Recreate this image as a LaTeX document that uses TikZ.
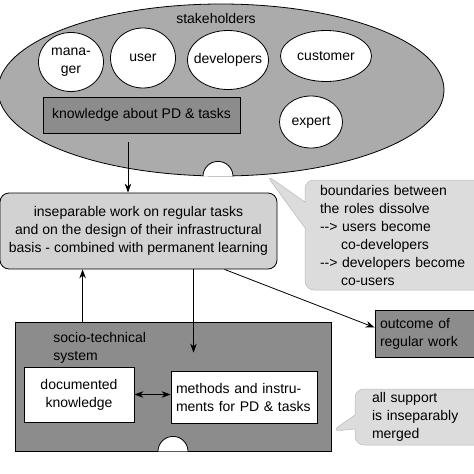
\documentclass[tikz,border=0pt]{standalone}
\usepackage{fontspec}
\setmainfont{Liberation Sans}
\usetikzlibrary{shapes.geometric,shapes.callouts,arrows.meta}
\definecolor{stakegray}{HTML}{ABABAB}
\definecolor{workgray}{HTML}{D2D2D2}
\definecolor{boxgray}{HTML}{8C8C8C}
\definecolor{notegray}{HTML}{DCDCDC}
\begin{document}
\begin{tikzpicture}[x=1pt,y=-1pt,line width=0.8pt,>={Stealth[length=9pt,width=6.5pt]},
  every node/.style={font=\fontsize{14}{18}\selectfont},
  role/.style={draw,ellipse,fill=white,inner sep=0pt,align=center},
  box/.style={draw,rectangle,inner sep=0pt},
  note/.style={rectangle callout,rounded corners=9pt,draw=gray!55,line width=0.5pt,fill=notegray,align=left,inner sep=0pt}]
\useasboundingbox (0,0) rectangle (474,474);
\node[ellipse,draw,fill=stakegray,minimum width=446pt,minimum height=172pt] (stake) at (221,90) {};
\node (stakelabel) at (216,18) {stakeholders};
\node[role,minimum width=65pt,minimum height=59pt] (manager) at (71,62) {mana-\\ger};
\node[role,minimum width=65pt,minimum height=60pt] (user) at (143,58) {user};
\node[role,inner xsep=-9pt,minimum width=81pt,minimum height=59pt] (dev) at (228,60) {developers};
\node[role,minimum width=91pt,minimum height=51pt] (customer) at (326,56) {customer};
\node[role,minimum width=63pt,minimum height=52pt] (expert) at (311,122) {expert};
\node[box,fill=boxgray,minimum width=197pt,minimum height=36pt] (know) at (141.5,115) {knowledge about PD \& tasks};
\draw[fill=white] ([xshift=-18pt]stake.south) arc[start angle=180,end angle=0,radius=15pt];
%
\node[draw,rounded corners=9pt,fill=workgray,minimum width=277pt,minimum height=76pt,align=center,inner sep=0pt] (work) at (138.5,231) {inseparable work on regular tasks\\and on the design of their infrastructural\\basis - combined with permanent learning};
\node[note,callout absolute pointer={(stake.-62)},callout pointer width=26pt,minimum width=180pt,minimum height=110pt,text width=150pt] (roles) at (395,235) {boundaries between\\the roles dissolve\\-{}-> users become\\\hspace*{21pt}co-developers\\-{}-> developers become\\\hspace*{21pt}co-users};
\node[box,fill=boxgray,minimum width=106pt,minimum height=47pt,text width=96pt,align=left] (outcome) at (428,333.5) {outcome of\\regular work};
%
\node[box,fill=boxgray,minimum width=316pt,minimum height=129pt] (socio) at (173,386.5) {};
\node[align=left,anchor=west,inner sep=0pt] (sociolabel) at (53,347.5) {socio-technical\\system};
\node[box,fill=white,minimum width=110pt,minimum height=55pt,align=center] (doc) at (79,394.5) {documented\\knowledge};
\node[box,fill=white,minimum width=146pt,minimum height=52pt,text width=136pt,align=left] (meth) at (244,397) {methods and instru-\\ments for PD \& tasks};
\draw[fill=white] ([xshift=-15pt]socio.south) arc[start angle=180,end angle=0,radius=15pt];
\node[note,callout absolute pointer={([yshift=20pt]socio.south east)},callout pointer width=14pt,minimum width=130pt,minimum height=56pt,text width=96pt] (merge) at (420,417) {all support\\is inseparably\\merged};
%
\draw[->,shorten <=9pt] ([xshift=-13.5pt]know.south) -- ([xshift=-13.5pt]know.south |- work.north);
\draw[->] ([xshift=68pt]socio.north west) -- ([xshift=68pt]socio.north west |- work.south);
\draw[->,shorten >=18pt] ([xshift=55pt]work.south) -- ([xshift=55pt]work.south |- meth.north);
\draw[->] ([xshift=86pt]work.south) -- ([yshift=6pt]outcome.west);
\draw[<->] (doc.east) -- (doc.east -| meth.west);
\end{tikzpicture}
\end{document}
